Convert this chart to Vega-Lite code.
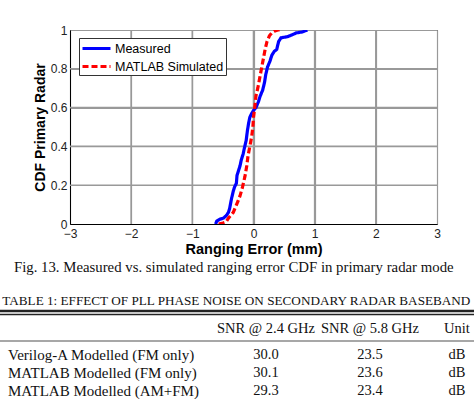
{
  "$schema": "https://vega.github.io/schema/vega-lite/v6.json",
  "width": 367,
  "height": 194,
  "autosize": {"type": "none"},
  "padding": {"left": 70, "top": 30, "right": 37, "bottom": 175},
  "background": "white",
  "config": {"view": {"stroke": "black", "strokeWidth": 1}, "font": "Liberation Sans"},
  "resolve": {"scale": {"x": "independent", "y": "independent"}},
  "layer": [
    {
      "layer": [
        {
          "data": {"values": [{"tick": -2}, {"tick": -1}, {"tick": 0}, {"tick": 1}, {"tick": 2}]},
          "mark": {"type": "rule", "color": "#999999", "strokeWidth": 1.6},
          "encoding": {"x": {"field": "tick", "type": "quantitative",
              "scale": {"domain": [-3, 3], "nice": false, "zero": false},
              "axis": {"title": "Ranging Error (mm)", "titleFontSize": 14.5, "titleFontWeight": "bold", "titleColor": "black", "titlePadding": 3, "titleFont": "Liberation Sans",
                "values": [-3, -2, -1, 0, 1, 2, 3], "format": "~g", "labelFontSize": 12, "labelColor": "#222", "labelPadding": 4, "ticks": false,
                "grid": true, "gridColor": "#999999", "gridWidth": 1.2, "gridOpacity": 1, "domainColor": "black", "labelFlush": false}}}
        },
        {
          "data": {"values": [{"tick": 0.2}, {"tick": 0.4}, {"tick": 0.6}, {"tick": 0.8}]},
          "mark": {"type": "rule", "color": "#999999", "strokeWidth": 1.6},
          "encoding": {"y": {"field": "tick", "type": "quantitative",
              "scale": {"domain": [0, 1], "nice": false},
              "axis": {"title": "CDF Primary Radar", "titleFontSize": 14, "titleFontWeight": "bold", "titleColor": "black", "titlePadding": 3, "titleFont": "Liberation Sans",
                "values": [0, 0.2, 0.4, 0.6, 0.8, 1], "format": "~g", "labelFontSize": 12, "labelColor": "#222", "labelPadding": 3, "ticks": false,
                "grid": true, "gridColor": "#999999", "gridWidth": 1.2, "gridOpacity": 1, "domainColor": "black", "labelFlush": false}}}
        },
        {
          "data": {"values": [
            {"series": "Measured", "error": -0.62, "cdf": 0},
            {"series": "Measured", "error": -0.6, "cdf": 0.015},
            {"series": "Measured", "error": -0.55, "cdf": 0.025},
            {"series": "Measured", "error": -0.49, "cdf": 0.03},
            {"series": "Measured", "error": -0.44, "cdf": 0.045},
            {"series": "Measured", "error": -0.41, "cdf": 0.06},
            {"series": "Measured", "error": -0.39, "cdf": 0.08},
            {"series": "Measured", "error": -0.36, "cdf": 0.13},
            {"series": "Measured", "error": -0.33, "cdf": 0.17},
            {"series": "Measured", "error": -0.31, "cdf": 0.19},
            {"series": "Measured", "error": -0.28, "cdf": 0.21},
            {"series": "Measured", "error": -0.27, "cdf": 0.25},
            {"series": "Measured", "error": -0.24, "cdf": 0.28},
            {"series": "Measured", "error": -0.22, "cdf": 0.3},
            {"series": "Measured", "error": -0.2, "cdf": 0.33},
            {"series": "Measured", "error": -0.17, "cdf": 0.36},
            {"series": "Measured", "error": -0.15, "cdf": 0.39},
            {"series": "Measured", "error": -0.12, "cdf": 0.43},
            {"series": "Measured", "error": -0.1, "cdf": 0.48},
            {"series": "Measured", "error": -0.08, "cdf": 0.52},
            {"series": "Measured", "error": -0.06, "cdf": 0.55},
            {"series": "Measured", "error": -0.03, "cdf": 0.57},
            {"series": "Measured", "error": 0.0, "cdf": 0.585},
            {"series": "Measured", "error": 0.04, "cdf": 0.6},
            {"series": "Measured", "error": 0.08, "cdf": 0.63},
            {"series": "Measured", "error": 0.11, "cdf": 0.66},
            {"series": "Measured", "error": 0.15, "cdf": 0.69},
            {"series": "Measured", "error": 0.18, "cdf": 0.73},
            {"series": "Measured", "error": 0.2, "cdf": 0.77},
            {"series": "Measured", "error": 0.23, "cdf": 0.81},
            {"series": "Measured", "error": 0.27, "cdf": 0.84},
            {"series": "Measured", "error": 0.3, "cdf": 0.87},
            {"series": "Measured", "error": 0.34, "cdf": 0.89},
            {"series": "Measured", "error": 0.38, "cdf": 0.9},
            {"series": "Measured", "error": 0.41, "cdf": 0.94},
            {"series": "Measured", "error": 0.45, "cdf": 0.96},
            {"series": "Measured", "error": 0.55, "cdf": 0.965},
            {"series": "Measured", "error": 0.63, "cdf": 0.975},
            {"series": "Measured", "error": 0.7, "cdf": 0.985},
            {"series": "Measured", "error": 0.8, "cdf": 0.99},
            {"series": "Measured", "error": 0.88, "cdf": 1.0},
            {"series": "MATLAB Simulated", "error": -0.57, "cdf": 0},
            {"series": "MATLAB Simulated", "error": -0.5, "cdf": 0.005},
            {"series": "MATLAB Simulated", "error": -0.45, "cdf": 0.01},
            {"series": "MATLAB Simulated", "error": -0.41, "cdf": 0.03},
            {"series": "MATLAB Simulated", "error": -0.37, "cdf": 0.045},
            {"series": "MATLAB Simulated", "error": -0.33, "cdf": 0.06},
            {"series": "MATLAB Simulated", "error": -0.29, "cdf": 0.09},
            {"series": "MATLAB Simulated", "error": -0.25, "cdf": 0.12},
            {"series": "MATLAB Simulated", "error": -0.22, "cdf": 0.145},
            {"series": "MATLAB Simulated", "error": -0.18, "cdf": 0.19},
            {"series": "MATLAB Simulated", "error": -0.14, "cdf": 0.245},
            {"series": "MATLAB Simulated", "error": -0.11, "cdf": 0.3},
            {"series": "MATLAB Simulated", "error": -0.09, "cdf": 0.35},
            {"series": "MATLAB Simulated", "error": -0.06, "cdf": 0.4},
            {"series": "MATLAB Simulated", "error": -0.03, "cdf": 0.45},
            {"series": "MATLAB Simulated", "error": -0.01, "cdf": 0.5},
            {"series": "MATLAB Simulated", "error": 0.0, "cdf": 0.55},
            {"series": "MATLAB Simulated", "error": 0.02, "cdf": 0.6},
            {"series": "MATLAB Simulated", "error": 0.04, "cdf": 0.66},
            {"series": "MATLAB Simulated", "error": 0.07, "cdf": 0.7},
            {"series": "MATLAB Simulated", "error": 0.1, "cdf": 0.75},
            {"series": "MATLAB Simulated", "error": 0.13, "cdf": 0.8},
            {"series": "MATLAB Simulated", "error": 0.16, "cdf": 0.85},
            {"series": "MATLAB Simulated", "error": 0.19, "cdf": 0.9},
            {"series": "MATLAB Simulated", "error": 0.22, "cdf": 0.94},
            {"series": "MATLAB Simulated", "error": 0.26, "cdf": 0.97},
            {"series": "MATLAB Simulated", "error": 0.3, "cdf": 0.985},
            {"series": "MATLAB Simulated", "error": 0.35, "cdf": 0.995},
            {"series": "MATLAB Simulated", "error": 0.4, "cdf": 1.0},
            {"series": "MATLAB Simulated", "error": 0.46, "cdf": 1.0}
          ]},
          "mark": {"type": "line", "strokeWidth": 3.2, "clip": true},
          "encoding": {
            "x": {"field": "error", "type": "quantitative",
              "scale": {"domain": [-3, 3], "nice": false, "zero": false},
              "axis": {"title": "Ranging Error (mm)", "titleFontSize": 14.5, "titleFontWeight": "bold", "titleColor": "black", "titlePadding": 3, "titleFont": "Liberation Sans",
                "values": [-3, -2, -1, 0, 1, 2, 3], "format": "~g", "labelFontSize": 12, "labelColor": "#222", "labelPadding": 4, "ticks": false,
                "grid": true, "gridColor": "#999999", "gridWidth": 1.2, "gridOpacity": 1, "domainColor": "black", "labelFlush": false}},
            "y": {"field": "cdf", "type": "quantitative",
              "scale": {"domain": [0, 1], "nice": false},
              "axis": {"title": "CDF Primary Radar", "titleFontSize": 14, "titleFontWeight": "bold", "titleColor": "black", "titlePadding": 3, "titleFont": "Liberation Sans",
                "values": [0, 0.2, 0.4, 0.6, 0.8, 1], "format": "~g", "labelFontSize": 12, "labelColor": "#222", "labelPadding": 3, "ticks": false,
                "grid": true, "gridColor": "#999999", "gridWidth": 1.2, "gridOpacity": 1, "domainColor": "black", "labelFlush": false}},
            "color": {"field": "series", "type": "nominal",
              "scale": {"domain": ["Measured", "MATLAB Simulated"], "range": ["#0000ff", "#ff0000"]},
              "legend": {"title": null, "orient": "none", "legendX": 9, "legendY": 8, "strokeColor": "#333", "fillColor": "white",
                "padding": 2, "labelFontSize": 12.5, "labelFont": "Liberation Sans", "labelColor": "black", "symbolType": "M-1,0H3",
                "symbolStrokeWidth": 3, "symbolSize": 196, "rowPadding": 3, "labelOffset": 17}},
            "strokeDash": {"field": "series", "type": "nominal",
              "scale": {"domain": ["Measured", "MATLAB Simulated"], "range": [[1, 0], [6, 3]]},
              "legend": {"title": null, "orient": "none", "legendX": 9, "legendY": 8, "strokeColor": "#333", "fillColor": "white",
                "padding": 2, "labelFontSize": 12.5, "labelFont": "Liberation Sans", "labelColor": "black", "symbolType": "M-1,0H3",
                "symbolStrokeWidth": 3, "symbolSize": 196, "rowPadding": 3, "labelOffset": 17}}
          }
        }
      ]
    },
    {
      "layer": [
        {
          "data": {"values": [
            {"row": 0, "text": "Fig. 13. Measured vs. simulated ranging error CDF in primary radar mode"}
          ]},
          "mark": {"type": "text", "font": "Liberation Serif", "fontSize": 14.8, "align": "center", "baseline": "middle", "color": "#111"},
          "encoding": {
            "x": {"datum": 0.875, "type": "quantitative", "scale": {"domain": [0, 1, 2, 3], "range": [-62, 196, 300, 387], "zero": false, "nice": false}, "axis": null},
            "y": {"field": "row", "type": "quantitative", "scale": {"domain": [0, 1, 2, 3, 4, 5], "range": [238, 271, 299, 325, 343, 361], "zero": false, "nice": false}, "axis": null},
            "text": {"field": "text"}
          }
        },
        {
          "data": {"values": [
            {"row": 1, "text": "TABLE 1: EFFECT OF PLL PHASE NOISE ON SECONDARY RADAR BASEBAND"}
          ]},
          "mark": {"type": "text", "font": "Liberation Serif", "fontSize": 13.2, "align": "center", "baseline": "middle", "color": "#111"},
          "encoding": {
            "x": {"datum": 0.885, "type": "quantitative", "axis": null},
            "y": {"field": "row", "type": "quantitative", "axis": null},
            "text": {"field": "text"}
          }
        },
        {
          "data": {"values": [
            {"row": 3, "col": 0, "text": "Verilog-A Modelled (FM only)"},
            {"row": 4, "col": 0, "text": "MATLAB Modelled (FM only)"},
            {"row": 5, "col": 0, "text": "MATLAB Modelled (AM+FM)"}
          ]},
          "mark": {"type": "text", "font": "Liberation Serif", "fontSize": 15, "align": "left", "baseline": "middle", "color": "#111"},
          "encoding": {
            "x": {"field": "col", "type": "quantitative", "axis": null},
            "y": {"field": "row", "type": "quantitative", "axis": null},
            "text": {"field": "text"}
          }
        },
        {
          "data": {"values": [
            {"row": 2, "col": 1, "text": "SNR @ 2.4 GHz"},
            {"row": 2, "col": 2, "text": "SNR @ 5.8 GHz"},
            {"row": 2, "col": 3, "text": "Unit"},
            {"row": 3, "col": 1, "text": "30.0"},
            {"row": 3, "col": 2, "text": "23.5"},
            {"row": 3, "col": 3, "text": "dB"},
            {"row": 4, "col": 1, "text": "30.1"},
            {"row": 4, "col": 2, "text": "23.6"},
            {"row": 4, "col": 3, "text": "dB"},
            {"row": 5, "col": 1, "text": "29.3"},
            {"row": 5, "col": 2, "text": "23.4"},
            {"row": 5, "col": 3, "text": "dB"}
          ]},
          "mark": {"type": "text", "font": "Liberation Serif", "fontSize": 14.5, "align": "center", "baseline": "middle", "color": "#111"},
          "encoding": {
            "x": {"field": "col", "type": "quantitative", "axis": null},
            "y": {"field": "row", "type": "quantitative", "axis": null},
            "text": {"field": "text"}
          }
        },
        {
          "data": {"values": [{}]},
          "mark": {"type": "rule", "strokeWidth": 2.5, "color": "#222"},
          "encoding": {
            "x": {"datum": -0.2, "type": "quantitative", "axis": null},
            "x2": {"datum": 3.4},
            "y": {"datum": 1.357, "type": "quantitative", "axis": null}
          }
        },
        {
          "data": {"values": [{}]},
          "mark": {"type": "rule", "strokeWidth": 1.3, "color": "#222"},
          "encoding": {
            "x": {"datum": -0.2, "type": "quantitative", "axis": null},
            "x2": {"datum": 3.4},
            "y": {"datum": 1.482, "type": "quantitative", "axis": null}
          }
        },
        {
          "data": {"values": [{}]},
          "mark": {"type": "rule", "strokeWidth": 1.5, "color": "#8a8a8a"},
          "encoding": {
            "x": {"datum": -0.2, "type": "quantitative", "axis": null},
            "x2": {"datum": 3.4},
            "y": {"datum": 2.46, "type": "quantitative", "axis": null}
          }
        }
      ]
    }
  ]
}
